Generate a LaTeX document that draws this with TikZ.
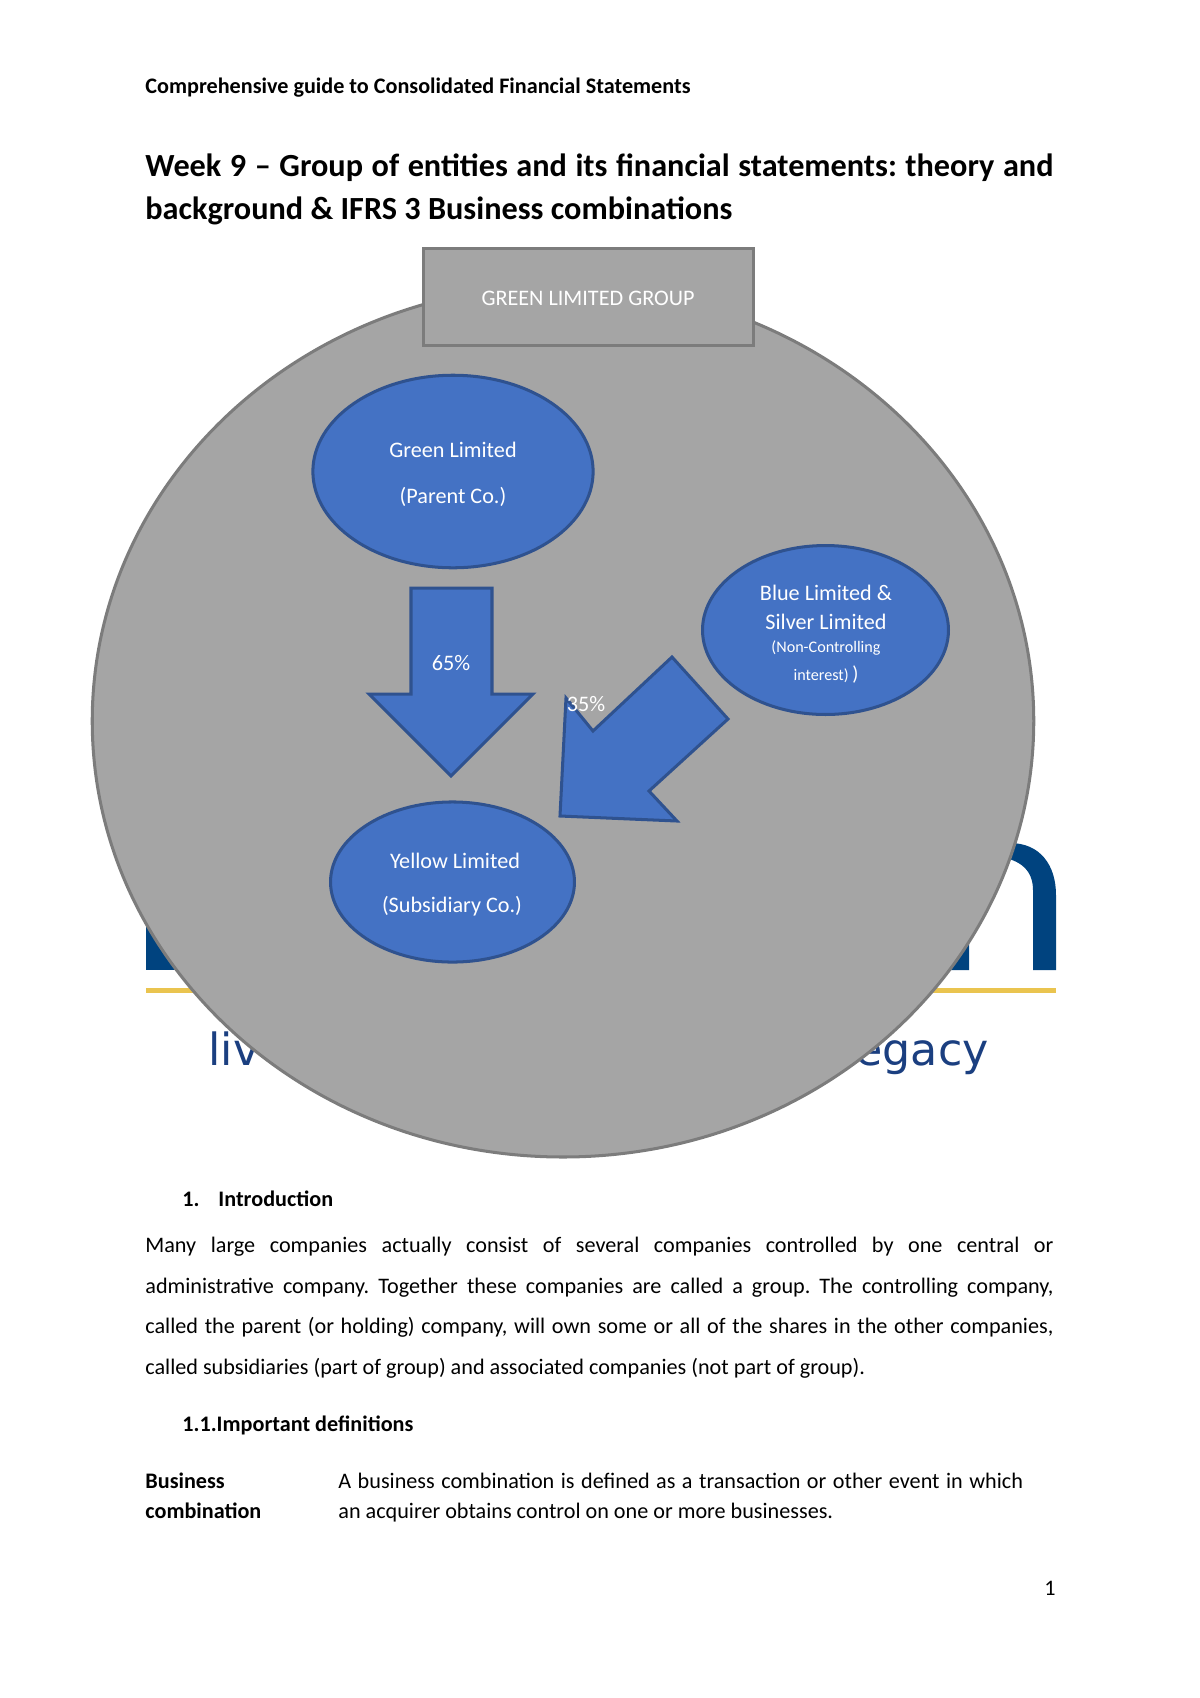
\documentclass[tikz,border=0pt]{standalone}
\usepackage{fontspec}
\setmainfont{Carlito}
\newfontfamily\logofont{DejaVu Sans}
\usetikzlibrary{shapes.geometric}
\definecolor{shapeblue}{HTML}{4472C4}
\definecolor{shapeedge}{HTML}{2F528F}
\definecolor{groupgray}{HTML}{A5A5A5}
\definecolor{groupedge}{HTML}{7C7C7C}
\definecolor{logoblue}{HTML}{00437F}
\definecolor{logogold}{HTML}{EAC44F}
\definecolor{logotext}{HTML}{1B3F80}
\newcommand{\justline}[2][450.4pt]{\makebox[#1][s]{#2}}

\begin{document}
\frenchspacing
\begin{tikzpicture}[
        x=0.496pt, y=-0.496pt,
        bodytext/.style={anchor=base west, inner sep=0pt, font=\fontsize{11}{13}\selectfont},
        headtext/.style={bodytext, font=\fontsize{11}{13}\selectfont\bfseries},
        titletext/.style={bodytext, font=\fontsize{16}{19}\selectfont\bfseries},
        logotxt/.style={anchor=base west, inner sep=0pt, text=logotext, font=\fontsize{22}{27}\selectfont\logofont},
        groupshape/.style={fill=groupgray, draw=groupedge, line width=1.5pt},
        coshape/.style={ellipse, fill=shapeblue, draw=shapeedge, line width=1.5pt, inner sep=0pt},
        arrowshape/.style={fill=shapeblue, draw=shapeedge, line width=1.5pt, line join=miter},
        whitetext/.style={text=white, inner sep=0pt, font=\fontsize{11}{13}\selectfont},
        smallwhite/.style={whitetext, font=\fontsize{8}{10}\selectfont},
      ]
        \useasboundingbox (0,0) rectangle (1200,1698);

        % Header
        \node[headtext] (header) at (145, 93) {Comprehensive guide to Consolidated Financial Statements};
        \node[titletext] (title1) at (145, 176.5) {\justline{Week 9 – Group of entities and its financial statements: theory and}};
        \node[titletext] (title2) at (145, 219.5) {background \& IFRS 3 Business combinations};

        % Logo behind the circle
        \fill[logoblue] (146, 920) rectangle (300, 970);
        \fill[logoblue] (1056, 970) -- (1056, 895) .. controls (1056, 865) and (1040, 843) .. (1010, 843)
          -- (900, 843) -- (900, 970) -- (969, 970) -- (969, 857) -- (1000, 857)
          .. controls (1020, 860) and (1033, 870) .. (1033, 890) -- (1033, 970) -- cycle;
        \fill[logogold] (146, 988) rectangle (1056, 993);
        \node[logotxt] (logoleft) at (208, 1065) {liv};
        \node[logotxt] (logoright) at (855, 1065) {egacy};

        % Group circle and box
        \node[groupshape, ellipse, inner sep=0pt, minimum width=467pt, minimum height=432.5pt] (group) at (563, 721) {};
        \node[groupshape, minimum width=164pt, minimum height=48.5pt, inner sep=0pt] (groupbox) at (588.5, 297) {};
        \node[whitetext] (grouplbl) at (588, 298.5) {GREEN LIMITED GROUP};

        % Companies
        \node[coshape, minimum width=139pt, minimum height=95.5pt] (green) at (453, 471.5) {};
        \node[whitetext] (greenname) at (453, 450) {Green Limited};
        \node[whitetext] (greennote) at (453, 497) {(Parent Co.)};

        \node[coshape, minimum width=122pt, minimum height=83.8pt] (blue) at (825.5, 630) {};
        \node[whitetext] (bluename) at (826, 593) {Blue Limited \&};
        \node[whitetext] (silvername) at (826, 622) {Silver Limited};
        \node[smallwhite] (bluenote) at (826, 648) {(Non-Controlling};
        \node[smallwhite] (blueint) at (826, 675) {interest) {\fontsize{10}{12}\selectfont)}};

        \node[coshape, minimum width=121pt, minimum height=79.4pt] (yellow) at (452.5, 882) {};
        \node[whitetext] (yellowname) at (455, 861) {Yellow Limited};
        \node[whitetext] (yellownote) at (452, 906) {(Subsidiary Co.)};

        % Ownership arrows
        \draw[arrowshape] (411, 588) -- (492, 588) -- (492, 694) -- (533, 694) -- (451, 776)
          -- (369, 694) -- (411, 694) -- cycle;
        \node[whitetext] (share65) at (451, 663) {65\%};
        \draw[arrowshape] (566, 698) -- (593, 731) -- (672, 657) -- (728, 719) -- (649, 791)
          -- (677, 821) -- (560, 816) -- cycle;
        \node[whitetext] (share35) at (586, 704) {35\%};

        % Introduction
        \node[headtext] (secnum) at (182, 1206.5) {1.};
        \node[headtext] (sectitle) at (218, 1206.5) {Introduction};
        \node[bodytext] (line1) at (145, 1252) {\justline{Many large companies actually consist of several companies controlled by one central or}};
        \node[bodytext] (line2) at (145, 1293) {\justline{administrative company. Together these companies are called a group. The controlling company,}};
        \node[bodytext] (line3) at (145, 1333) {\justline{called the parent (or holding) company, will own some or all of the shares in the other companies,}};
        \node[bodytext] (line4) at (145, 1374) {called subsidiaries (part of group) and associated companies (not part of group).};

        % Definitions
        \node[headtext] (subsec) at (182, 1431) {1.1.Important definitions};
        \node[headtext] (term1) at (145, 1488) {Business};
        \node[headtext] (term2) at (145, 1518) {combination};
        \node[bodytext] (def1) at (338, 1488) {\justline[339.6pt]{A business combination is defined as a transaction or other event in which}};
        \node[bodytext] (def2) at (338, 1518) {an acquirer obtains control on one or more businesses.};

        % Page number
        \node[bodytext] (pagenum) at (1044, 1595) {1};
      \end{tikzpicture}
\end{document}
